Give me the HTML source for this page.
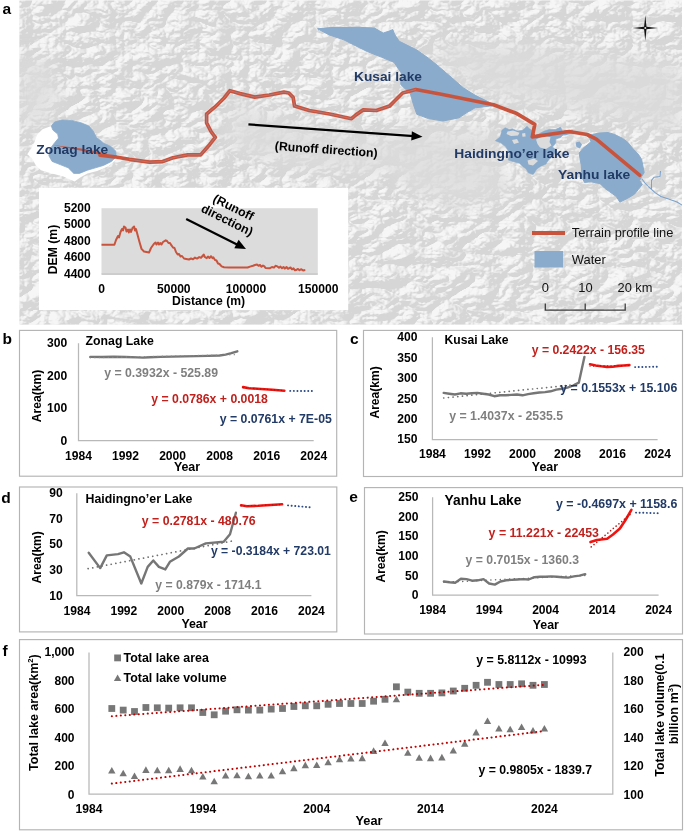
<!DOCTYPE html>
<html lang="en"><head><meta charset="utf-8"><title>Lake area changes</title>
<style>
html,body{margin:0;padding:0;background:#fff;}
body{width:685px;height:833px;overflow:hidden;font-family:"Liberation Sans", Arial, sans-serif;}
svg{display:block;font-family:"Liberation Sans", Arial, sans-serif;}
</style></head><body>
<svg width="685" height="833" viewBox="0 0 685 833">
<defs>
<filter id="relief" x="0" y="0" width="100%" height="100%" color-interpolation-filters="sRGB">
  <feTurbulence type="turbulence" baseFrequency="0.03 0.045" numOctaves="5" seed="11" result="n"/>
  <feDiffuseLighting in="n" surfaceScale="6" diffuseConstant="1" lighting-color="#fff" result="l">
    <feDistantLight azimuth="225" elevation="50"/>
  </feDiffuseLighting>
  <feComponentTransfer in="l">
    <feFuncR type="table" tableValues="0.840 0.840 0.840 0.840 0.840 0.840 0.840 0.840 0.840 0.840 0.840 0.840 0.840 0.858 0.876 0.894 0.911 0.929 0.947 0.965 0.965"/>
    <feFuncG type="table" tableValues="0.840 0.840 0.840 0.840 0.840 0.840 0.840 0.840 0.840 0.840 0.840 0.840 0.840 0.858 0.876 0.894 0.911 0.929 0.947 0.965 0.965"/>
    <feFuncB type="table" tableValues="0.840 0.840 0.840 0.840 0.840 0.840 0.840 0.840 0.840 0.840 0.840 0.840 0.840 0.858 0.876 0.894 0.911 0.929 0.947 0.965 0.965"/>
  </feComponentTransfer>
</filter>
<filter id="blur12" x="-20%" y="-20%" width="140%" height="140%"><feGaussianBlur stdDeviation="9"/></filter>
<clipPath id="mapclip"><path d="M19.5,0.5H682V324.5H19.5Z"/></clipPath>
</defs>
<rect width="685" height="833" fill="#fff"/>

<g id="map" clip-path="url(#mapclip)">
<rect x="19.5" y="0.5" width="662.5" height="324" fill="#dedede"/>
<rect x="19.5" y="0.5" width="662.5" height="324" filter="url(#relief)"/>
<g filter="url(#blur12)" opacity="0.8" fill="#dcdcdc">
<polygon points="430,42 520,45 600,55 682,62 682,135 640,125 560,110 500,100 455,75"/>
<polygon points="395,125 500,130 495,165 520,190 470,205 410,195 385,160"/>
<polygon points="19,55 50,60 62,95 45,125 19,130"/>
<polygon points="230,100 300,125 400,140 380,175 300,170 225,150 "/>
</g>
<polygon points="51.3,126.1 42.5,129.3 36.9,134.9 34.5,142.1 31.2,148.5 27.2,154.2 32.0,158.2 35.3,164.6 40.9,170.2 52.1,173.4 63.4,176.6 74.6,181.5 80.2,177.5 87.4,173.4 97.1,171.0 108.3,166.2 116.4,159.8 118.0,156.6 112.0,148.0 96.0,138.0 90.0,126.0 75.0,121.0" fill="#fff"/>
<polygon points="51.3,126.1 54.5,122.0 61.8,120.0 71.4,120.4 81.0,122.8 89.1,126.1 93.1,130.9 96.3,137.3 103.5,142.9 111.5,146.9 115.6,151.0 116.4,156.6 111.5,161.4 103.5,165.4 95.5,167.8 87.4,170.2 79.4,173.4 73.8,173.4 68.2,167.8 60.1,164.6 52.1,161.4 48.9,155.8 49.7,149.3 54.5,142.9 58.5,138.1 57.7,134.1 52.9,130.1" fill="#8aabcb" stroke="#8aabcb" stroke-width="0.8" stroke-linejoin="round"/>
<polygon points="317.5,28.7 335.0,27.6 358.4,27.3 374.5,28.1 383.2,33.1 389.1,31.1 392.8,29.6 394.9,34.9 399.3,41.3 416.8,50.0 428.5,58.2 437.2,65.2 451.8,77.8 463.5,88.0 475.2,95.3 489.8,102.6 496.2,105.5 489.8,106.1 475.2,107.8 466.4,112.8 459.1,117.8 443.1,121.0 428.5,118.6 416.8,114.3 413.3,104.1 410.4,93.8 400.7,84.5 401.6,73.4 394.0,62.3 381.8,57.3 367.2,51.5 355.5,45.7 343.8,39.8 329.2,34.9" fill="#8aabcb" stroke="#8aabcb" stroke-width="1" stroke-linejoin="round"/>
<polygon points="495.4,140.7 500.3,136.7 501.9,130.3 505.1,127.8 509.1,129.5 512.3,128.7 517.1,131.1 522.7,130.3 527.1,126.2 529.2,128.7 533.2,131.1 531.9,136.7 538.0,134.3 544.4,131.1 549.2,129.5 555.7,129.5 560.5,127.0 562.1,130.3 563.7,134.3 560.5,137.5 555.7,139.1 555.7,143.1 552.4,147.1 556.0,150.0 553.0,156.0 548.4,160.0 546.0,164.0 540.4,166.4 536.4,169.6 533.2,174.4 528.4,172.8 526.0,168.8 522.7,166.4 519.5,163.2 513.1,161.6 508.3,160.0 510.0,154.0 505.9,147.1 501.1,143.1" fill="#8aabcb" stroke="#8aabcb" stroke-width="0.6" stroke-linejoin="round"/>
<polygon points="507.5,131.5 513.0,130.6 519.5,132.8 518.0,135.6 511.0,135.9 506.5,134.0" fill="#dcdcdc"/>
<polygon points="522.0,133.5 525.2,133.0 525.6,136.6 522.5,136.8" fill="#dcdcdc"/>
<polygon points="536.0,139.5 541.0,137.0 546.5,136.3 550.5,137.3 549.5,142.0 551.5,145.5 546.0,149.0 540.0,147.5 537.5,144.0" fill="#dcdcdc"/>
<polygon points="527.5,160.5 534.0,158.5 538.0,161.0 533.0,165.5 528.5,164.5" fill="#dcdcdc"/>
<polygon points="512.0,140.0 517.0,139.0 519.0,142.5 514.0,144.0" fill="#dcdcdc"/>
<polygon points="564.0,130.5 572.6,129.4 574.0,132.8 566.0,135.3 561.2,135.6" fill="#8aabcb"/>
<polygon points="575.5,142.5 579.5,141.5 582.0,144.5 580.0,148.5 576.5,147.0" fill="#8aabcb"/>
<polygon points="587.1,135.8 592.3,134.5 598.9,133.1 608.1,132.5 614.7,134.5 622.6,138.4 627.8,142.3 633.1,148.9 638.3,154.2 641.6,159.4 642.9,166.0 644.2,172.6 641.6,176.5 639.6,180.4 642.3,184.4 638.3,189.6 634.4,194.2 627.8,198.2 619.9,202.1 616.0,196.2 609.4,191.6 604.8,188.3 600.2,183.7 591.0,181.8 584.5,182.4 582.5,178.5 581.8,172.6 581.2,164.7 579.9,158.1 579.2,152.9 583.1,148.3 587.1,145.0 591.0,141.7 589.7,138.4" fill="#8aabcb" stroke="#8aabcb" stroke-width="1" stroke-linejoin="round"/>
<path d="M641.6,178.5 L645,183 L648.8,187 L655.4,192.9 L661,196.5 L670,199.5 L677,202 L682,205 M651.5,189 L651.5,180.4 L654.1,177.2 L660,176.5 L660.5,171" fill="none" stroke="#7aa2cd" stroke-width="1.05" stroke-linejoin="round"/>
<path d="M318,30 Q330,26 345,28" fill="none" stroke="#8aabcb" stroke-width="1"/>
<polyline points="100.0,155.2 114.6,156.8 129.2,159.3 149.6,162.2 162.8,161.6 173.0,157.8 187.6,154.9 200.7,154.9 209.5,144.7 215.3,137.4 211.0,131.5 206.6,122.8 206.6,114.0 215.3,106.7 224.1,98.0 229.9,90.7 240.1,93.6 254.7,97.1 269.3,95.0 283.9,92.1 288.8,93.0 293.1,97.4 294.6,106.1 309.2,110.5 329.6,114.0 351.5,118.7 355.9,114.9 363.2,109.9 376.4,110.5 389.5,106.1 395.3,100.3 402.6,93.0 415.8,89.5 440.0,94.0 493.6,104.7 516.9,113.6 534.8,124.4 532.3,136.9 568.8,131.5 587.1,134.5 596.3,139.1 639.6,175.2" fill="none" stroke="#c8543e" stroke-width="3.7" stroke-linejoin="round" stroke-linecap="round"/>
<polyline points="129.2,159.3 149.6,162.2 162.8,161.6 173.0,157.8 187.6,154.9 200.7,154.9 209.5,144.7 215.3,137.4 211.0,131.5 206.6,122.8 206.6,114.0 215.3,106.7 224.1,98.0 229.9,90.7 240.1,93.6 254.7,97.1 269.3,95.0 283.9,92.1 288.8,93.0 293.1,97.4 294.6,106.1 309.2,110.5 329.6,114.0 351.5,118.7 355.9,114.9 363.2,109.9 376.4,110.5 389.5,106.1 395.3,100.3 402.6,93.0 415.8,89.5" fill="none" stroke="#a3a6bd" stroke-width="0.7" stroke-linejoin="round" opacity="0.6"/>
<polygon points="53,145 85,149 101,152.2 101,155 85,151.6" fill="#c8543e"/>
<text x="36.3" y="154.3" font-size="13.1" font-weight="bold" fill="#213a66" text-anchor="start" textLength="72" lengthAdjust="spacingAndGlyphs" >Zonag lake</text>
<text x="354" y="81.1" font-size="13.1" font-weight="bold" fill="#213a66" text-anchor="start" textLength="68" lengthAdjust="spacingAndGlyphs" >Kusai lake</text>
<text x="454.3" y="157.5" font-size="13.1" font-weight="bold" fill="#213a66" text-anchor="start" textLength="115.2" lengthAdjust="spacingAndGlyphs" >Haidingno’er lake</text>
<text x="558" y="178.5" font-size="13.1" font-weight="bold" fill="#213a66" text-anchor="start" textLength="72.3" lengthAdjust="spacingAndGlyphs" >Yanhu lake</text>
<line x1="248.4" y1="124.4" x2="414" y2="136.1" stroke="#000" stroke-width="2.2"/>
<polygon points="422.5,136.7 411.2,140.6 411.9,131.2" fill="#000"/>
<g transform="translate(326.3,149.3) rotate(4)">
<text x="0" y="4.3" font-size="12.3" font-weight="bold" fill="#000" text-anchor="middle" textLength="103" lengthAdjust="spacingAndGlyphs" >(Runoff direction)</text>
</g>
<path d="M645.3,15.3 L646.5,26.8 L658,28 L646.5,29.2 L645.3,40.7 L644.1,29.2 L632.6,28 L644.1,26.8 Z" fill="#111"/>
<circle cx="645.3" cy="28" r="1" fill="#ddd"/>
<line x1="532" y1="233" x2="565" y2="233" stroke="#c8543e" stroke-width="4"/>
<text x="571.8" y="237.3" font-size="12.9" font-weight="normal" fill="#111" text-anchor="start" textLength="101.6" lengthAdjust="spacingAndGlyphs" >Terrain profile line</text>
<rect x="534.5" y="251" width="28.5" height="16.5" fill="#8aabcb"/>
<text x="571.8" y="263.9" font-size="12.9" font-weight="normal" fill="#111" text-anchor="start" >Water</text>
<text x="545.3" y="291.6" font-size="12.9" font-weight="normal" fill="#111" text-anchor="middle" >0</text>
<text x="585.5" y="291.6" font-size="12.9" font-weight="normal" fill="#111" text-anchor="middle" >10</text>
<text x="617.5" y="291.6" font-size="12.9" font-weight="normal" fill="#111" text-anchor="start" textLength="35" lengthAdjust="spacingAndGlyphs" >20 km</text>
<path d="M545.3,303.6 V310.1 H625.2 V303.6 M585.2,303.6 V310.1" fill="none" stroke="#3c3c3c" stroke-width="1.3"/>
<rect x="39" y="187.8" width="309.2" height="122.3" fill="#fff"/>
<rect x="101.5" y="208.2" width="216.3" height="65.9" fill="#dcdcdc"/>
<line x1="101.5" y1="274.1" x2="317.8" y2="274.1" stroke="#bdbdbd" stroke-width="1.1"/>
<text x="90.7" y="211.8" font-size="12" font-weight="bold" fill="#000" text-anchor="end" >5200</text>
<text x="90.7" y="228.25" font-size="12" font-weight="bold" fill="#000" text-anchor="end" >5000</text>
<text x="90.7" y="244.70000000000002" font-size="12" font-weight="bold" fill="#000" text-anchor="end" >4800</text>
<text x="90.7" y="261.15" font-size="12" font-weight="bold" fill="#000" text-anchor="end" >4600</text>
<text x="90.7" y="277.6" font-size="12" font-weight="bold" fill="#000" text-anchor="end" >4400</text>
<text x="101.6" y="292.8" font-size="12.1" font-weight="bold" fill="#000" text-anchor="middle" >0</text>
<text x="173.8" y="292.8" font-size="12.1" font-weight="bold" fill="#000" text-anchor="middle" >50000</text>
<text x="246.0" y="292.8" font-size="12.1" font-weight="bold" fill="#000" text-anchor="middle" >100000</text>
<text x="318.20000000000005" y="292.8" font-size="12.1" font-weight="bold" fill="#000" text-anchor="middle" >150000</text>
<text x="208.6" y="304.8" font-size="12.2" font-weight="bold" fill="#000" text-anchor="middle" textLength="73" lengthAdjust="spacingAndGlyphs" >Distance (m)</text>
<g transform="translate(56.5,249.5) rotate(-90)">
<text x="0" y="0" font-size="12.2" font-weight="bold" fill="#000" text-anchor="middle" textLength="49.6" lengthAdjust="spacingAndGlyphs" >DEM (m)</text>
</g>
<polyline points="101.5,244.8 114.4,244.8 116.0,240.0 118.0,236.0 119.0,237.5 120.5,232.0 122.0,229.0 123.0,230.5 124.0,226.5 125.5,227.5 126.5,231.5 128.0,229.5 128.8,232.5 130.0,229.5 131.0,232.0 132.5,228.0 134.1,226.5 135.0,230.5 136.0,229.0 137.8,235.8 139.5,242.0 141.5,248.9 144.0,251.5 149.0,252.6 151.0,248.0 153.8,244.0 155.5,242.5 156.5,244.5 158.0,242.5 159.0,244.5 160.2,243.0 161.5,244.5 163.0,242.0 165.7,240.3 167.0,241.0 168.5,243.0 170.0,243.0 171.3,245.2 173.0,247.5 174.5,248.0 176.0,252.0 177.7,254.5 179.0,254.0 180.5,256.5 182.0,256.0 184.0,258.5 186.2,258.9 189.0,259.5 191.0,258.5 193.0,259.2 195.0,257.6 197.0,258.6 199.2,257.1 201.0,257.8 202.5,256.0 203.7,254.5 204.8,257.0 206.7,258.2 208.0,256.6 209.5,258.0 211.0,256.2 212.5,258.2 213.4,257.4 215.0,260.0 216.5,260.5 218.0,263.5 219.5,264.0 221.6,266.4 224.0,267.3 229.0,267.5 247.6,267.5 250.0,266.6 253.0,265.8 255.0,265.0 257.0,264.5 258.5,265.8 260.0,265.0 261.5,266.8 263.0,265.5 264.4,266.4 265.5,268.0 270.0,268.2 272.0,267.0 274.0,267.6 275.5,265.8 277.4,266.4 279.0,267.8 280.5,266.6 282.0,268.3 283.5,267.0 284.9,268.6 286.5,267.0 288.0,268.8 290.5,267.5 292.0,269.3 293.5,268.3 295.0,270.3 296.0,270.1 298.0,268.9 299.5,270.3 301.0,269.2 303.0,270.4 305.3,270.1" fill="none" stroke="#c8543e" stroke-width="2" stroke-linejoin="round"/>
<line x1="186.2" y1="219.1" x2="238.5" y2="245.3" stroke="#000" stroke-width="2.2"/>
<polygon points="246,249 234.3,248.2 238.6,239.7" fill="#000"/>
<g transform="translate(230,214.3) rotate(26.6)">
<text x="0" y="-3.5" font-size="12.3" font-weight="bold" fill="#000" text-anchor="middle" >(Runoff</text>
<text x="0" y="10.5" font-size="12.3" font-weight="bold" fill="#000" text-anchor="middle" >direction)</text>
</g>
</g>
<text x="2.5" y="14.2" font-size="15.5" font-weight="bold" fill="#000" text-anchor="start" >a</text>
<rect x="19.5" y="330.4" width="317.2" height="145.8" fill="#fff" stroke="#b4b4b4" stroke-width="1.15"/>
<text x="2.6" y="344.2" font-size="15.5" font-weight="bold" fill="#000" text-anchor="start" >b</text>
<path d="M78.5,343.2 V440.7 H313.7" fill="none" stroke="#b8b8b8" stroke-width="1.25"/>
<text x="67.3" y="347.09999999999997" font-size="12.1" font-weight="bold" fill="#000" text-anchor="end" >300</text>
<text x="67.3" y="379.59999999999997" font-size="12.1" font-weight="bold" fill="#000" text-anchor="end" >200</text>
<text x="67.3" y="412.09999999999997" font-size="12.1" font-weight="bold" fill="#000" text-anchor="end" >100</text>
<text x="67.3" y="444.59999999999997" font-size="12.1" font-weight="bold" fill="#000" text-anchor="end" >0</text>
<text x="78.5" y="459.6" font-size="12.1" font-weight="bold" fill="#000" text-anchor="middle" >1984</text>
<text x="125.53999999999999" y="459.6" font-size="12.1" font-weight="bold" fill="#000" text-anchor="middle" >1992</text>
<text x="172.57999999999998" y="459.6" font-size="12.1" font-weight="bold" fill="#000" text-anchor="middle" >2000</text>
<text x="219.62" y="459.6" font-size="12.1" font-weight="bold" fill="#000" text-anchor="middle" >2008</text>
<text x="266.65999999999997" y="459.6" font-size="12.1" font-weight="bold" fill="#000" text-anchor="middle" >2016</text>
<text x="313.7" y="459.6" font-size="12.1" font-weight="bold" fill="#000" text-anchor="middle" >2024</text>
<text x="85.6" y="344.7" font-size="12.3" font-weight="bold" fill="#000" text-anchor="start" textLength="68.2" lengthAdjust="spacingAndGlyphs" >Zonag Lake</text>
<g transform="translate(37,396) rotate(-90)">
<text x="0" y="4.3" font-size="12.2" font-weight="bold" fill="#000" text-anchor="middle" textLength="52.3" lengthAdjust="spacingAndGlyphs" >Area(km)</text>
</g>
<text x="187" y="471.1" font-size="12.3" font-weight="bold" fill="#000" text-anchor="middle" textLength="26.2" lengthAdjust="spacingAndGlyphs" >Year</text>
<polyline points="90.3,356.9 102.0,357.0 113.8,356.8 125.5,357.0 137.3,357.4 143.2,357.6 149.1,357.2 160.8,356.9 172.6,356.6 184.3,356.4 196.1,356.1 207.9,355.9 219.6,355.5 225.5,354.6 231.4,353.2 237.3,351.3" fill="none" stroke="#767676" stroke-width="2.4" stroke-linejoin="round" stroke-linecap="round"/>
<polyline points="90.3,357.8 237.3,354.6" fill="none" stroke="#8a8a8a" stroke-width="1.3" stroke-linecap="round" stroke-dasharray="0.1 4.4"/>
<polyline points="243.1,387.1 249.0,388.2 260.8,389.0 272.5,389.8 284.3,390.7" fill="none" stroke="#f01410" stroke-width="2.6" stroke-linejoin="round" stroke-linecap="round"/>
<polyline points="243.1,387.6 284.3,390.6" fill="none" stroke="#a01510" stroke-width="1.2" stroke-linecap="round" stroke-dasharray="0.1 3.4"/>
<polyline points="290.2,390.9 313.7,391.0" fill="none" stroke="#2c4a86" stroke-width="1.9" stroke-linecap="round" stroke-dasharray="0.1 3.5"/>
<text x="104.2" y="376.7" font-size="12.3" font-weight="bold" fill="#7f7f7f" text-anchor="start" textLength="113.8" lengthAdjust="spacingAndGlyphs" >y = 0.3932x - 525.89</text>
<text x="151.3" y="402.9" font-size="12.3" font-weight="bold" fill="#c0211d" text-anchor="start" textLength="116.6" lengthAdjust="spacingAndGlyphs" >y = 0.0786x + 0.0018</text>
<text x="219.8" y="422.8" font-size="12.3" font-weight="bold" fill="#213a66" text-anchor="start" textLength="112" lengthAdjust="spacingAndGlyphs" >y = 0.0761x + 7E-05</text>
<rect x="363.5" y="330.4" width="319.0" height="146.10000000000002" fill="#fff" stroke="#b4b4b4" stroke-width="1.15"/>
<text x="350.1" y="344.2" font-size="15.5" font-weight="bold" fill="#000" text-anchor="start" >c</text>
<path d="M432.4,337.3 V439.5 H657.6" fill="none" stroke="#b8b8b8" stroke-width="1.25"/>
<text x="417.4" y="341.2" font-size="12.1" font-weight="bold" fill="#000" text-anchor="end" >400</text>
<text x="417.4" y="361.64" font-size="12.1" font-weight="bold" fill="#000" text-anchor="end" >350</text>
<text x="417.4" y="382.08" font-size="12.1" font-weight="bold" fill="#000" text-anchor="end" >300</text>
<text x="417.4" y="402.52" font-size="12.1" font-weight="bold" fill="#000" text-anchor="end" >250</text>
<text x="417.4" y="422.96" font-size="12.1" font-weight="bold" fill="#000" text-anchor="end" >200</text>
<text x="417.4" y="443.4" font-size="12.1" font-weight="bold" fill="#000" text-anchor="end" >150</text>
<text x="432.4" y="458.4" font-size="12.1" font-weight="bold" fill="#000" text-anchor="middle" >1984</text>
<text x="477.44" y="458.4" font-size="12.1" font-weight="bold" fill="#000" text-anchor="middle" >1992</text>
<text x="522.48" y="458.4" font-size="12.1" font-weight="bold" fill="#000" text-anchor="middle" >2000</text>
<text x="567.52" y="458.4" font-size="12.1" font-weight="bold" fill="#000" text-anchor="middle" >2008</text>
<text x="612.56" y="458.4" font-size="12.1" font-weight="bold" fill="#000" text-anchor="middle" >2016</text>
<text x="657.5999999999999" y="458.4" font-size="12.1" font-weight="bold" fill="#000" text-anchor="middle" >2024</text>
<text x="444.6" y="344.2" font-size="12.3" font-weight="bold" fill="#000" text-anchor="start" textLength="63.9" lengthAdjust="spacingAndGlyphs" >Kusai Lake</text>
<g transform="translate(375.1,392.4) rotate(-90)">
<text x="0" y="4.3" font-size="12.2" font-weight="bold" fill="#000" text-anchor="middle" textLength="52.3" lengthAdjust="spacingAndGlyphs" >Area(km)</text>
</g>
<text x="544.9" y="471.1" font-size="12.3" font-weight="bold" fill="#000" text-anchor="middle" textLength="26.2" lengthAdjust="spacingAndGlyphs" >Year</text>
<polyline points="443.7,392.9 449.3,393.7 454.9,394.5 460.5,393.3 466.2,393.7 471.8,393.3 477.4,392.9 483.1,393.7 488.7,394.5 494.3,396.2 500.0,395.3 505.6,395.3 511.2,394.9 516.9,394.5 522.5,395.3 528.1,394.1 533.7,393.3 539.4,392.5 545.0,392.1 550.6,391.3 556.3,389.6 561.9,388.8 567.5,387.6 573.1,385.5 578.8,382.7 584.4,356.9" fill="none" stroke="#767676" stroke-width="2.4" stroke-linejoin="round" stroke-linecap="round"/>
<polyline points="443.7,398.0 578.8,384.3" fill="none" stroke="#707070" stroke-width="1.7" stroke-linecap="round" stroke-dasharray="0.1 4.6"/>
<polyline points="590.0,364.3 595.7,365.5 601.3,366.3 606.9,366.9 612.6,366.7 618.2,365.9 623.8,365.5 629.4,365.1" fill="none" stroke="#f01410" stroke-width="2.6" stroke-linejoin="round" stroke-linecap="round"/>
<polyline points="590.0,366.1 629.4,365.5" fill="none" stroke="#a01510" stroke-width="1.2" stroke-linecap="round" stroke-dasharray="0.1 3.4"/>
<polyline points="635.1,367.1 657.6,366.7" fill="none" stroke="#2c4a86" stroke-width="1.9" stroke-linecap="round" stroke-dasharray="0.1 3.5"/>
<text x="531.7" y="353.8" font-size="12.3" font-weight="bold" fill="#c0211d" text-anchor="start" textLength="113.2" lengthAdjust="spacingAndGlyphs" >y = 0.2422x - 156.35</text>
<text x="560.3" y="391.6" font-size="12.3" font-weight="bold" fill="#213a66" text-anchor="start" textLength="117" lengthAdjust="spacingAndGlyphs" >y = 0.1553x + 15.106</text>
<text x="449.2" y="419.7" font-size="12.3" font-weight="bold" fill="#7f7f7f" text-anchor="start" textLength="113.9" lengthAdjust="spacingAndGlyphs" >y = 1.4037x - 2535.5</text>
<rect x="19.5" y="487" width="317.3" height="144.89999999999998" fill="#fff" stroke="#b4b4b4" stroke-width="1.15"/>
<text x="1.3" y="502.5" font-size="15.5" font-weight="bold" fill="#000" text-anchor="start" >d</text>
<path d="M76.8,493.2 V595.7 H311.4" fill="none" stroke="#b8b8b8" stroke-width="1.25"/>
<text x="62.7" y="497.09999999999997" font-size="12.1" font-weight="bold" fill="#000" text-anchor="end" >90</text>
<text x="62.7" y="522.725" font-size="12.1" font-weight="bold" fill="#000" text-anchor="end" >70</text>
<text x="62.7" y="548.35" font-size="12.1" font-weight="bold" fill="#000" text-anchor="end" >50</text>
<text x="62.7" y="573.975" font-size="12.1" font-weight="bold" fill="#000" text-anchor="end" >30</text>
<text x="62.7" y="599.6" font-size="12.1" font-weight="bold" fill="#000" text-anchor="end" >10</text>
<text x="77.0" y="614.6" font-size="12.1" font-weight="bold" fill="#000" text-anchor="middle" >1984</text>
<text x="123.88" y="614.6" font-size="12.1" font-weight="bold" fill="#000" text-anchor="middle" >1992</text>
<text x="170.76" y="614.6" font-size="12.1" font-weight="bold" fill="#000" text-anchor="middle" >2000</text>
<text x="217.64000000000001" y="614.6" font-size="12.1" font-weight="bold" fill="#000" text-anchor="middle" >2008</text>
<text x="264.52" y="614.6" font-size="12.1" font-weight="bold" fill="#000" text-anchor="middle" >2016</text>
<text x="311.4" y="614.6" font-size="12.1" font-weight="bold" fill="#000" text-anchor="middle" >2024</text>
<text x="85.6" y="503" font-size="12.3" font-weight="bold" fill="#000" text-anchor="start" textLength="106.9" lengthAdjust="spacingAndGlyphs" >Haidingno’er Lake</text>
<g transform="translate(37,557.3) rotate(-90)">
<text x="0" y="4.3" font-size="12.2" font-weight="bold" fill="#000" text-anchor="middle" textLength="52.3" lengthAdjust="spacingAndGlyphs" >Area(km)</text>
</g>
<text x="194.5" y="627.7" font-size="12.3" font-weight="bold" fill="#000" text-anchor="middle" textLength="26.2" lengthAdjust="spacingAndGlyphs" >Year</text>
<polyline points="88.7,552.8 100.2,568.1 106.8,555.4 118.0,554.1 123.9,552.3 130.3,556.6 141.3,583.5 147.7,566.9 153.3,560.5 158.9,566.9 165.3,569.4 169.9,561.8 178.9,556.5 187.9,548.5 194.3,548.5 205.8,543.4 223.7,541.8 230.0,534.2 235.9,512.7" fill="none" stroke="#767676" stroke-width="2.4" stroke-linejoin="round" stroke-linecap="round"/>
<polyline points="88.1,568.7 233.4,540.8" fill="none" stroke="#707070" stroke-width="1.7" stroke-linecap="round" stroke-dasharray="0.1 4.6"/>
<polyline points="241.1,505.3 246.9,506.3 258.7,505.8 270.4,505.0 282.1,504.3" fill="none" stroke="#f01410" stroke-width="2.6" stroke-linejoin="round" stroke-linecap="round"/>
<polyline points="241.1,505.9 282.1,504.6" fill="none" stroke="#a01510" stroke-width="1.2" stroke-linecap="round" stroke-dasharray="0.1 3.4"/>
<polyline points="288.0,505.4 311.4,507.4" fill="none" stroke="#2c4a86" stroke-width="1.9" stroke-linecap="round" stroke-dasharray="0.1 3.5"/>
<text x="141.8" y="524.7" font-size="12.3" font-weight="bold" fill="#c0211d" text-anchor="start" textLength="113.8" lengthAdjust="spacingAndGlyphs" >y = 0.2781x - 480.76</text>
<text x="210.9" y="555.3" font-size="12.3" font-weight="bold" fill="#213a66" text-anchor="start" textLength="120" lengthAdjust="spacingAndGlyphs" >y = -0.3184x + 723.01</text>
<text x="155.3" y="589.3" font-size="12.3" font-weight="bold" fill="#7f7f7f" text-anchor="start" textLength="106.2" lengthAdjust="spacingAndGlyphs" >y = 0.879x - 1714.1</text>
<rect x="364.5" y="487.6" width="318.0" height="146.39999999999998" fill="#fff" stroke="#b4b4b4" stroke-width="1.15"/>
<text x="349.3" y="501.7" font-size="15.5" font-weight="bold" fill="#000" text-anchor="start" >e</text>
<path d="M432.6,497.3 V595.2 H658.6" fill="none" stroke="#b8b8b8" stroke-width="1.25"/>
<text x="418.4" y="501.2" font-size="12.1" font-weight="bold" fill="#000" text-anchor="end" >250</text>
<text x="418.4" y="520.78" font-size="12.1" font-weight="bold" fill="#000" text-anchor="end" >200</text>
<text x="418.4" y="540.36" font-size="12.1" font-weight="bold" fill="#000" text-anchor="end" >150</text>
<text x="418.4" y="559.94" font-size="12.1" font-weight="bold" fill="#000" text-anchor="end" >100</text>
<text x="418.4" y="579.52" font-size="12.1" font-weight="bold" fill="#000" text-anchor="end" >50</text>
<text x="418.4" y="599.1" font-size="12.1" font-weight="bold" fill="#000" text-anchor="end" >0</text>
<text x="432.6" y="614.1" font-size="12.1" font-weight="bold" fill="#000" text-anchor="middle" >1984</text>
<text x="489.1" y="614.1" font-size="12.1" font-weight="bold" fill="#000" text-anchor="middle" >1994</text>
<text x="545.6" y="614.1" font-size="12.1" font-weight="bold" fill="#000" text-anchor="middle" >2004</text>
<text x="602.1" y="614.1" font-size="12.1" font-weight="bold" fill="#000" text-anchor="middle" >2014</text>
<text x="658.6" y="614.1" font-size="12.1" font-weight="bold" fill="#000" text-anchor="middle" >2024</text>
<text x="444.6" y="504.8" font-size="13.8" font-weight="bold" fill="#000" text-anchor="start" textLength="76.9" lengthAdjust="spacingAndGlyphs" >Yanhu Lake</text>
<g transform="translate(380.8,556.4) rotate(-90)">
<text x="0" y="4.3" font-size="12.2" font-weight="bold" fill="#000" text-anchor="middle" textLength="52.3" lengthAdjust="spacingAndGlyphs" >Area(km)</text>
</g>
<text x="545.8" y="628.7" font-size="12.3" font-weight="bold" fill="#000" text-anchor="middle" textLength="26.2" lengthAdjust="spacingAndGlyphs" >Year</text>
<polyline points="443.9,581.5 449.6,582.3 455.2,582.7 460.9,578.8 466.5,579.1 472.2,580.7 477.8,580.3 483.5,579.1 489.1,583.5 494.8,584.6 500.4,581.5 506.1,580.3 511.7,579.9 517.4,579.5 523.0,579.1 528.7,579.5 534.3,577.2 540.0,576.8 545.6,576.8 551.2,576.4 556.9,576.8 562.6,577.2 568.2,577.6 573.9,576.4 579.5,575.6 585.2,574.1" fill="none" stroke="#767676" stroke-width="2.4" stroke-linejoin="round" stroke-linecap="round"/>
<polyline points="443.9,582.3 585.2,575.4" fill="none" stroke="#707070" stroke-width="1.5" stroke-linecap="round" stroke-dasharray="0.1 4.6"/>
<polyline points="590.5,542.1 597.0,540.0 607.1,538.8 613.0,534.5 619.9,528.5 625.5,520.0 631.4,509.9" fill="none" stroke="#f01410" stroke-width="2.6" stroke-linejoin="round" stroke-linecap="round"/>
<polyline points="591.2,546.9 630.1,514.5" fill="none" stroke="#b81a14" stroke-width="1.6" stroke-linecap="round" stroke-dasharray="0.1 3.5"/>
<polyline points="636.0,512.6 658.6,513.2" fill="none" stroke="#2c4a86" stroke-width="1.9" stroke-linecap="round" stroke-dasharray="0.1 3.5"/>
<text x="556" y="507.5" font-size="12.3" font-weight="bold" fill="#213a66" text-anchor="start" textLength="121.3" lengthAdjust="spacingAndGlyphs" >y = -0.4697x + 1158.6</text>
<text x="488.6" y="536.9" font-size="12.3" font-weight="bold" fill="#c0211d" text-anchor="start" textLength="110.3" lengthAdjust="spacingAndGlyphs" >y = 11.221x - 22453</text>
<text x="465.6" y="563.7" font-size="12.3" font-weight="bold" fill="#7f7f7f" text-anchor="start" textLength="113.4" lengthAdjust="spacingAndGlyphs" >y = 0.7015x - 1360.3</text>
<rect x="19.5" y="639.6" width="663" height="190.2" fill="#fff" stroke="#b4b4b4" stroke-width="1.15"/>
<text x="2.4" y="656.2" font-size="15.5" font-weight="bold" fill="#000" text-anchor="start" >f</text>
<path d="M89,652.5 V794 H612.8 V652.5" fill="none" stroke="#b8b8b8" stroke-width="1.25"/>
<text x="74.5" y="656.2" font-size="12" font-weight="bold" fill="#000" text-anchor="end" >1,000</text>
<text x="74.5" y="684.6600000000001" font-size="12" font-weight="bold" fill="#000" text-anchor="end" >800</text>
<text x="74.5" y="713.12" font-size="12" font-weight="bold" fill="#000" text-anchor="end" >600</text>
<text x="74.5" y="741.58" font-size="12" font-weight="bold" fill="#000" text-anchor="end" >400</text>
<text x="74.5" y="770.0400000000001" font-size="12" font-weight="bold" fill="#000" text-anchor="end" >200</text>
<text x="74.5" y="798.5" font-size="12" font-weight="bold" fill="#000" text-anchor="end" >0</text>
<text x="623.6" y="656.2" font-size="12" font-weight="bold" fill="#000" text-anchor="start" >200</text>
<text x="623.6" y="684.6600000000001" font-size="12" font-weight="bold" fill="#000" text-anchor="start" >180</text>
<text x="623.6" y="713.12" font-size="12" font-weight="bold" fill="#000" text-anchor="start" >160</text>
<text x="623.6" y="741.58" font-size="12" font-weight="bold" fill="#000" text-anchor="start" >140</text>
<text x="623.6" y="770.0400000000001" font-size="12" font-weight="bold" fill="#000" text-anchor="start" >120</text>
<text x="623.6" y="798.5" font-size="12" font-weight="bold" fill="#000" text-anchor="start" >100</text>
<text x="89.0" y="813" font-size="12.1" font-weight="bold" fill="#000" text-anchor="middle" >1984</text>
<text x="202.85" y="813" font-size="12.1" font-weight="bold" fill="#000" text-anchor="middle" >1994</text>
<text x="316.7" y="813" font-size="12.1" font-weight="bold" fill="#000" text-anchor="middle" >2004</text>
<text x="430.55" y="813" font-size="12.1" font-weight="bold" fill="#000" text-anchor="middle" >2014</text>
<text x="544.4" y="813" font-size="12.1" font-weight="bold" fill="#000" text-anchor="middle" >2024</text>
<text x="369" y="825" font-size="12.3" font-weight="bold" fill="#000" text-anchor="middle" textLength="27" lengthAdjust="spacingAndGlyphs" >Year</text>
<g transform="translate(37.5,712.6) rotate(-90)">
<text x="0" y="0" font-size="12.3" font-weight="bold" text-anchor="middle" textLength="116.8" lengthAdjust="spacingAndGlyphs">Total lake area(km<tspan font-size="7.5" dy="-4.5">2</tspan><tspan dy="4.5">)</tspan></text>
</g>
<g transform="translate(663.8,715.1) rotate(-90)">
<text x="0" y="0" font-size="12.3" font-weight="bold" fill="#000" text-anchor="middle" textLength="123.2" lengthAdjust="spacingAndGlyphs" >Total lake volume(0.1</text>
</g>
<g transform="translate(677.8,714) rotate(-90)">
<text x="0" y="0" font-size="12.3" font-weight="bold" text-anchor="middle" textLength="60.5" lengthAdjust="spacingAndGlyphs">billion m<tspan font-size="7.5" dy="-4.5">3</tspan><tspan dy="4.5">)</tspan></text>
</g>
<rect x="108.4" y="705.1" width="6.8" height="6.8" fill="#777777"/>
<rect x="119.8" y="706.7" width="6.8" height="6.8" fill="#777777"/>
<rect x="131.1" y="708.1" width="6.8" height="6.8" fill="#777777"/>
<rect x="142.5" y="704.1" width="6.8" height="6.8" fill="#777777"/>
<rect x="153.9" y="704.4" width="6.8" height="6.8" fill="#777777"/>
<rect x="165.3" y="704.7" width="6.8" height="6.8" fill="#777777"/>
<rect x="176.7" y="704.4" width="6.8" height="6.8" fill="#777777"/>
<rect x="188.1" y="704.4" width="6.8" height="6.8" fill="#777777"/>
<rect x="199.4" y="709.1" width="6.8" height="6.8" fill="#777777"/>
<rect x="210.8" y="711.4" width="6.8" height="6.8" fill="#777777"/>
<rect x="222.2" y="707.8" width="6.8" height="6.8" fill="#777777"/>
<rect x="233.6" y="706.4" width="6.8" height="6.8" fill="#777777"/>
<rect x="245.0" y="706.7" width="6.8" height="6.8" fill="#777777"/>
<rect x="256.4" y="706.7" width="6.8" height="6.8" fill="#777777"/>
<rect x="267.8" y="705.7" width="6.8" height="6.8" fill="#777777"/>
<rect x="279.1" y="705.1" width="6.8" height="6.8" fill="#777777"/>
<rect x="290.5" y="703.1" width="6.8" height="6.8" fill="#777777"/>
<rect x="301.9" y="702.4" width="6.8" height="6.8" fill="#777777"/>
<rect x="313.3" y="702.4" width="6.8" height="6.8" fill="#777777"/>
<rect x="324.7" y="700.9" width="6.8" height="6.8" fill="#777777"/>
<rect x="336.1" y="700.1" width="6.8" height="6.8" fill="#777777"/>
<rect x="347.5" y="700.1" width="6.8" height="6.8" fill="#777777"/>
<rect x="358.8" y="700.1" width="6.8" height="6.8" fill="#777777"/>
<rect x="370.2" y="697.8" width="6.8" height="6.8" fill="#777777"/>
<rect x="381.6" y="695.9" width="6.8" height="6.8" fill="#777777"/>
<rect x="393.0" y="683.4" width="6.8" height="6.8" fill="#777777"/>
<rect x="404.4" y="688.7" width="6.8" height="6.8" fill="#777777"/>
<rect x="415.8" y="689.9" width="6.8" height="6.8" fill="#777777"/>
<rect x="427.2" y="689.9" width="6.8" height="6.8" fill="#777777"/>
<rect x="438.5" y="689.5" width="6.8" height="6.8" fill="#777777"/>
<rect x="449.9" y="687.6" width="6.8" height="6.8" fill="#777777"/>
<rect x="461.3" y="684.9" width="6.8" height="6.8" fill="#777777"/>
<rect x="472.7" y="681.9" width="6.8" height="6.8" fill="#777777"/>
<rect x="484.1" y="678.9" width="6.8" height="6.8" fill="#777777"/>
<rect x="495.5" y="681.1" width="6.8" height="6.8" fill="#777777"/>
<rect x="506.8" y="681.1" width="6.8" height="6.8" fill="#777777"/>
<rect x="518.2" y="680.4" width="6.8" height="6.8" fill="#777777"/>
<rect x="529.6" y="681.9" width="6.8" height="6.8" fill="#777777"/>
<rect x="541.0" y="681.1" width="6.8" height="6.8" fill="#777777"/>
<polygon points="111.8,767.0 115.5,773.6 108.1,773.6" fill="#777777"/>
<polygon points="123.2,769.7 126.9,776.3 119.5,776.3" fill="#777777"/>
<polygon points="134.5,772.4 138.2,779.0 130.8,779.0" fill="#777777"/>
<polygon points="145.9,766.3 149.6,772.9 142.2,772.9" fill="#777777"/>
<polygon points="157.3,766.7 161.0,773.3 153.6,773.3" fill="#777777"/>
<polygon points="168.7,766.7 172.4,773.3 165.0,773.3" fill="#777777"/>
<polygon points="180.1,765.3 183.8,771.9 176.4,771.9" fill="#777777"/>
<polygon points="191.5,766.7 195.2,773.3 187.8,773.3" fill="#777777"/>
<polygon points="202.8,773.0 206.5,779.6 199.2,779.6" fill="#777777"/>
<polygon points="214.2,777.7 217.9,784.3 210.5,784.3" fill="#777777"/>
<polygon points="225.6,772.0 229.3,778.6 221.9,778.6" fill="#777777"/>
<polygon points="237.0,771.7 240.7,778.3 233.3,778.3" fill="#777777"/>
<polygon points="248.4,772.7 252.1,779.3 244.7,779.3" fill="#777777"/>
<polygon points="259.8,772.0 263.5,778.6 256.1,778.6" fill="#777777"/>
<polygon points="271.2,772.0 274.9,778.6 267.5,778.6" fill="#777777"/>
<polygon points="282.5,767.7 286.2,774.3 278.8,774.3" fill="#777777"/>
<polygon points="293.9,764.6 297.6,771.2 290.2,771.2" fill="#777777"/>
<polygon points="305.3,761.6 309.0,768.2 301.6,768.2" fill="#777777"/>
<polygon points="316.7,761.4 320.4,768.0 313.0,768.0" fill="#777777"/>
<polygon points="328.1,758.7 331.8,765.3 324.4,765.3" fill="#777777"/>
<polygon points="339.5,755.7 343.2,762.3 335.8,762.3" fill="#777777"/>
<polygon points="350.9,754.9 354.6,761.5 347.2,761.5" fill="#777777"/>
<polygon points="362.2,754.6 365.9,761.2 358.5,761.2" fill="#777777"/>
<polygon points="373.6,747.3 377.3,753.9 369.9,753.9" fill="#777777"/>
<polygon points="385.0,739.4 388.7,746.0 381.3,746.0" fill="#777777"/>
<polygon points="396.4,695.7 400.1,702.3 392.7,702.3" fill="#777777"/>
<polygon points="407.8,749.2 411.5,755.8 404.1,755.8" fill="#777777"/>
<polygon points="419.2,754.2 422.9,760.8 415.5,760.8" fill="#777777"/>
<polygon points="430.6,754.6 434.2,761.2 426.9,761.2" fill="#777777"/>
<polygon points="441.9,753.8 445.6,760.4 438.2,760.4" fill="#777777"/>
<polygon points="453.3,747.0 457.0,753.6 449.6,753.6" fill="#777777"/>
<polygon points="464.7,740.1 468.4,746.7 461.0,746.7" fill="#777777"/>
<polygon points="476.1,728.8 479.8,735.4 472.4,735.4" fill="#777777"/>
<polygon points="487.5,717.4 491.2,724.0 483.8,724.0" fill="#777777"/>
<polygon points="498.9,725.0 502.6,731.6 495.2,731.6" fill="#777777"/>
<polygon points="510.2,725.7 513.9,732.3 506.5,732.3" fill="#777777"/>
<polygon points="521.6,723.4 525.3,730.0 517.9,730.0" fill="#777777"/>
<polygon points="533.0,726.9 536.7,733.5 529.3,733.5" fill="#777777"/>
<polygon points="544.4,725.0 548.1,731.6 540.7,731.6" fill="#777777"/>
<polyline points="111.8,716.2 544.4,684.8" fill="none" stroke="#c00000" stroke-width="2.0" stroke-linecap="round" stroke-dasharray="0.1 4.4"/>
<polyline points="111.8,783.6 544.4,731.0" fill="none" stroke="#c00000" stroke-width="2.0" stroke-linecap="round" stroke-dasharray="0.1 4.4"/>
<rect x="114.2" y="654.5" width="6.8" height="6.8" fill="#777777"/>
<text x="123.6" y="661.9" font-size="12.3" font-weight="bold" fill="#000" text-anchor="start" textLength="85.3" lengthAdjust="spacingAndGlyphs" >Total lake area</text>
<polygon points="117.6,674.4 121.3,681 113.9,681" fill="#777777"/>
<text x="123.6" y="682" font-size="12.3" font-weight="bold" fill="#000" text-anchor="start" textLength="103" lengthAdjust="spacingAndGlyphs" >Total lake volume</text>
<text x="476.2" y="664.3" font-size="12.3" font-weight="bold" fill="#000" text-anchor="start" textLength="110.4" lengthAdjust="spacingAndGlyphs" >y = 5.8112x - 10993</text>
<text x="478.5" y="773.5" font-size="12.3" font-weight="bold" fill="#000" text-anchor="start" textLength="113.5" lengthAdjust="spacingAndGlyphs" >y = 0.9805x - 1839.7</text>
</svg></body></html>
